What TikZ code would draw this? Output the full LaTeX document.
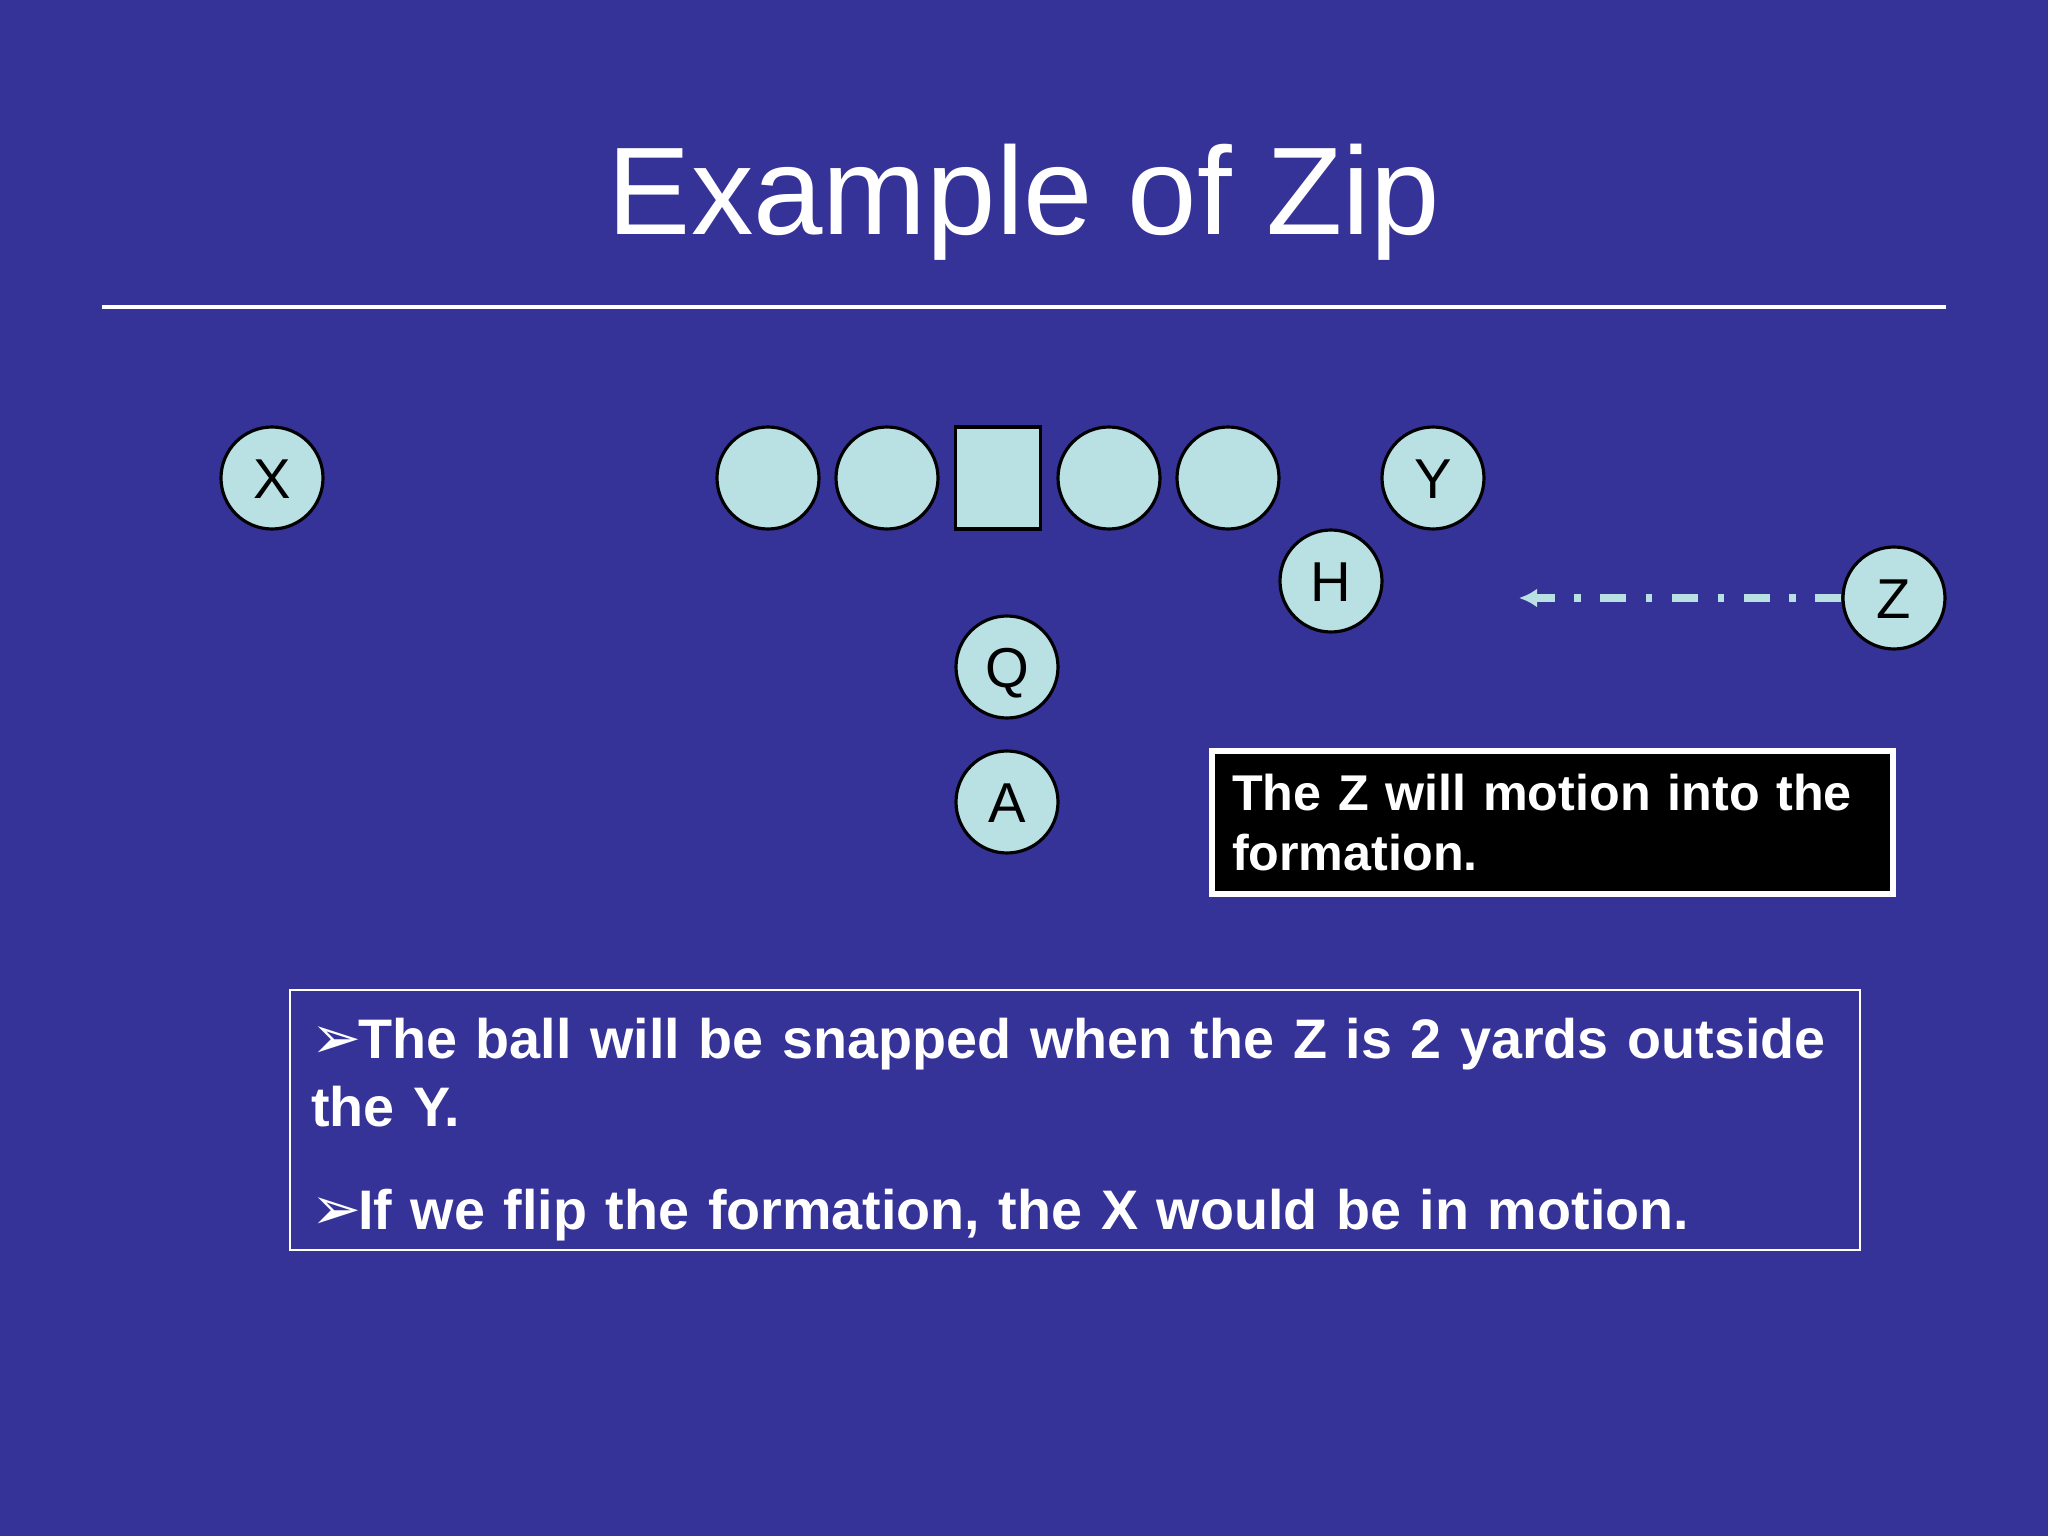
\documentclass[tikz,border=0pt]{standalone}
\usepackage{fontspec}
\setmainfont{Liberation Sans}
\newfontfamily\dingfont{DejaVu Sans}
\usetikzlibrary{shapes,arrows,arrows.meta}
\definecolor{slideblue}{RGB}{54,51,152}
\definecolor{playerfill}{RGB}{185,224,227}
\hyphenpenalty=10000
\newcommand{\bullmark}{\makebox[0.47cm][l]{\dingfont\fontsize{17pt}{17pt}\selectfont ➢}}
\tikzstyle{player} = [circle,minimum size=1.02cm,inner sep=0pt,draw=black,line width=0.9pt,fill=playerfill,text height=11.45pt,text depth=0pt,font=\fontsize{16pt}{18pt}\selectfont]
\tikzstyle{centersq} = [rectangle,minimum width=0.85cm,minimum height=1.02cm,inner sep=0pt,draw=black,line width=0.9pt,fill=playerfill]
\tikzstyle{note} = [rectangle,draw=white,line width=1.7pt,fill=black,text=white,text width=6.41cm,align=left,inner xsep=0.2cm,minimum height=1.43cm,font=\bfseries\fontsize{14.3pt}{17pt}\selectfont]
\tikzstyle{framebox} = [rectangle,draw=white,line width=0.8pt,minimum width=15.70cm,minimum height=2.60cm]
\tikzstyle{bullets} = [text=white,inner sep=0pt,text width=15.6cm,align=left,font=\bfseries\fontsize{15.85pt}{19.3pt}\selectfont]
\tikzstyle{motion} = [line width=2pt,draw=playerfill,dash pattern=on 7.4pt off 5.6pt on 1.8pt off 5.6pt,-{Latex[length=0.18cm,width=0.19cm]}]

\begin{document}
\begin{tikzpicture}
\fill [slideblue] (0,0) rectangle (20.48,-15.36);

\node (title) [anchor=base,text=white,font=\fontsize{35.5pt}{40pt}\selectfont] at (10.24,-2.35) {Example of Zip};
\draw [white,line width=1.4pt] (1.02,-3.07) -- (19.46,-3.07);

\node (X) [player] at (2.72,-4.78) {X};
\node (LT) [player] at (7.68,-4.78) {};
\node (LG) [player,right of=LT,node distance=1.19cm] {};
\node (C) [centersq,right of=LG,node distance=1.11cm] {};
\node (RG) [player,right of=C,node distance=1.11cm] {};
\node (RT) [player,right of=RG,node distance=1.19cm] {};
\node (Y) [player,right of=RT,node distance=2.05cm] {Y};
\node (H) [player] at (13.31,-5.81) {H};
\node (Z) [player] at (18.94,-5.98) {Z};
\node (Q) [player] at (10.07,-6.67) {Q};
\node (A) [player,below of=Q,node distance=1.35cm] {A};
\coordinate (zipend) at (15.19,-5.98);

\draw [motion] (Z) -- (zipend);

\node (zipnote) [note] at (15.525,-8.225) {The Z will motion into the\\formation.};

\node (frame) [framebox] at (10.75,-11.20) {};
\node (notes) [bullets,anchor=north west] at ([xshift=0.22cm,yshift=-0.29cm]frame.north west) {\bullmark The ball will be snapped when the Z is 2 yards outside\\the Y.\\[10pt]\bullmark If we flip the formation, the X would be in motion.};

\end{tikzpicture}
\end{document}
